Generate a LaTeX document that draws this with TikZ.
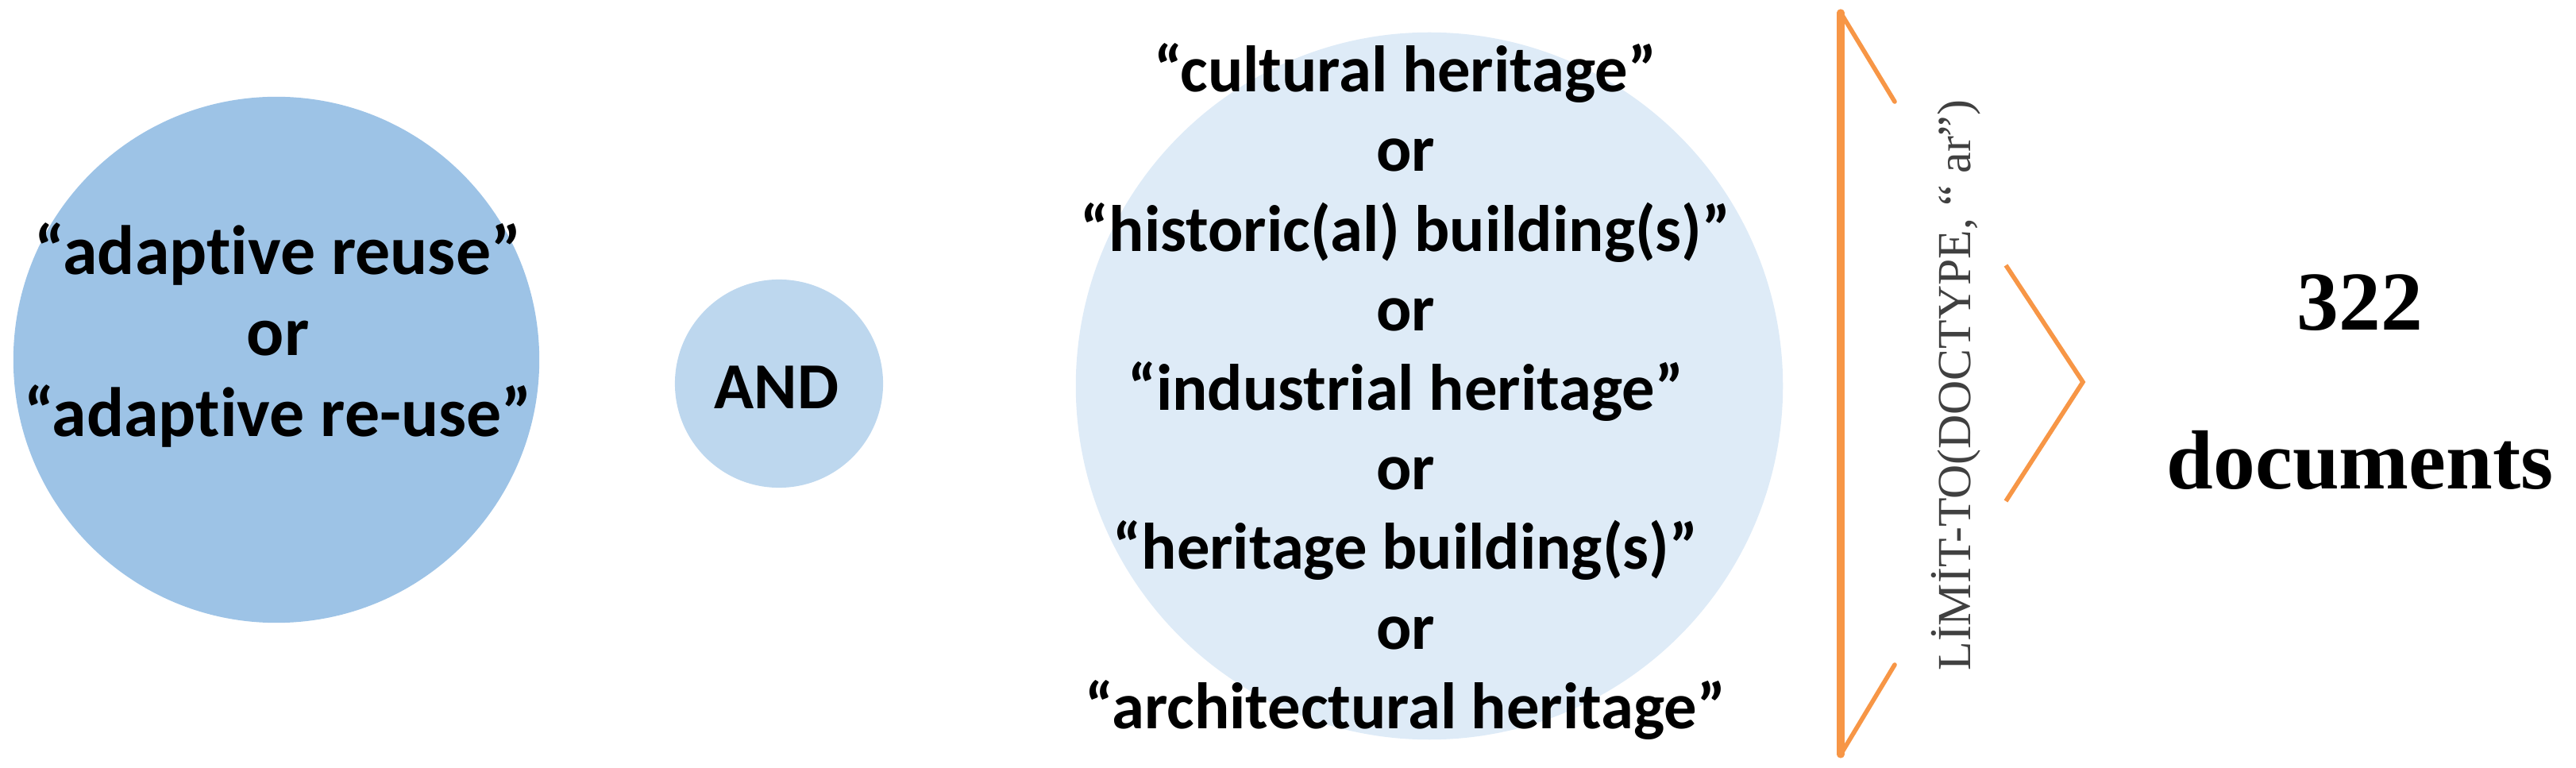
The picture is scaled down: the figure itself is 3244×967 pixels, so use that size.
\documentclass[tikz,border=0pt]{standalone}
\usepackage{fontspec}
\setmainfont[Ligatures=NoCommon]{Carlito}
\newfontfamily\timesfont{Liberation Serif}
\definecolor{reuseblue}{HTML}{9DC3E6}
\definecolor{andblue}{HTML}{BDD7EE}
\definecolor{heritageblue}{HTML}{DEEBF7}
\definecolor{limitorange}{HTML}{F79646}
\tikzset{
  termtext/.style={align=center,font=\fontsize{23.5}{28.5}\selectfont\bfseries},
  limitline/.style={draw=limitorange,line width=1.6pt,line cap=round},
}
\begin{document}
\begin{tikzpicture}[x=0.01cm,y=-0.01cm]

      \useasboundingbox (0,0) rectangle (3244,967);

      \begin{scope}[every node/.style={circle,inner sep=0pt}]
        \node[fill=reuseblue,minimum size=6.62cm]   (reuse)    at (348,453)  {};
        \node[fill=andblue,minimum size=2.62cm]     (and)      at (981,483)  {};
        \node[fill=heritageblue,minimum size=8.9cm] (heritage) at (1800,486) {};
      \end{scope}

      \begin{scope}[every node/.style={termtext}]
        \node[font=\fontsize{25}{29}\selectfont\bfseries] (reusetext) at (350,422) {“adaptive reuse”\\or\\“adaptive re-use”};
        \node (andtext)      at (978,488)  {AND};
        \node (heritagetext) at (1770,493) {“cultural heritage”\\or\\“historic(al) building(s)”\\or\\“industrial heritage”\\or\\“heritage building(s)”\\or\\“architectural heritage”};
      \end{scope}

      \coordinate (bartop)   at (2318,16);
      \coordinate (barbot)   at (2318,950);
      \coordinate (topend)   at (2386,128);
      \coordinate (botend)   at (2386,837);
      \coordinate (chevtop)  at (2526,334);
      \coordinate (chevtip)  at (2623,481);
      \coordinate (chevbot)  at (2526,631);

      \draw[limitline,line width=2.6pt] (bartop) -- (barbot);
      \draw[limitline] (bartop) -- (topend);
      \draw[limitline] (barbot) -- (botend);
      \draw[limitline,line cap=butt] (chevtop) -- (chevtip) -- (chevbot);

      \node[rotate=90,text=black!75,font=\timesfont\fontsize{17}{20}\selectfont] (limit) at (2463,485) {LİMİT-TO(DOCTYPE, “ ar”)};

      \begin{scope}[every node/.style={anchor=base,font=\timesfont\bfseries\fontsize{30}{36}\selectfont}]
        \node (count) at (2972,416) {322};
        \node (docs)  at (2972,616) {documents};
      \end{scope}

    \end{tikzpicture}
\end{document}
